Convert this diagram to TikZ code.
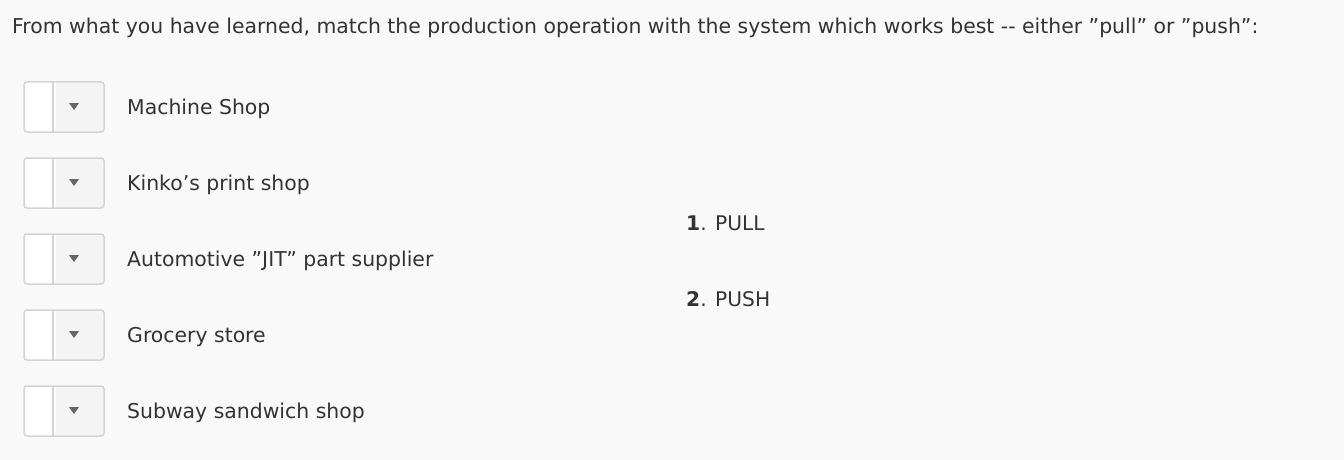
\documentclass[tikz,border=0pt]{standalone}
\usepackage{fontspec}
\setmainfont{DejaVu Sans}[Ligatures=NoCommon]
\definecolor{bg}{HTML}{F9F9F9}
\definecolor{txt}{HTML}{333333}
\definecolor{bord}{HTML}{D4D4D4}
\definecolor{ddgrey}{HTML}{F4F4F4}
\definecolor{arr}{HTML}{666666}
\newcommand{\dq}{\symbol{34}}
\newcommand{\sq}{\symbol{39}}
\begin{document}
\begin{tikzpicture}[x=1pt,y=-1pt,
  lbl/.style={anchor=west,inner sep=0pt,text=txt,font=\fontsize{20.4}{24}\selectfont},
  ans/.style={anchor=west,inner sep=0pt,text=txt,font=\fontsize{20.2}{24}\selectfont}]
\fill[bg] (0,0) rectangle (1344,460);
\useasboundingbox (0,0) rectangle (1344,460);
\node[lbl] (title) at (12,28) {From what you have learned, match the production operation with the system which works best -{}- either \dq pull\dq{} or \dq push\dq:};
\foreach \y/\t/\n in {107/Machine Shop/a,183/Kinko\sq s print shop/b,259/Automotive \dq JIT\dq{} part supplier/c,335/Grocery store/d,411/Subway sandwich shop/e}{
  \fill[ddgrey,rounded corners=3pt] (24,\y-25) rectangle (104,\y+25);
  \fill[white,rounded corners=3pt] (24,\y-25) rectangle (56,\y+25);
  \fill[white] (40,\y-25) rectangle (53,\y+25);
  \draw[bord,line width=1.5pt,rounded corners=3pt] (24,\y-25) rectangle (104,\y+25);
  \draw[bord,line width=1.5pt] (53,\y-25) -- (53,\y+25);
  \fill[arr] (69,\y-4) -- (79,\y-4) -- (74,\y+3) -- cycle;
  \node[lbl] (\n) at (127,\y+2) {\t};
}
\node[ans] (p1) at (686,223) {\textbf{1}. PULL};
\node[ans] (p2) at (686,299) {\textbf{2}. PUSH};
\end{tikzpicture}
\end{document}
